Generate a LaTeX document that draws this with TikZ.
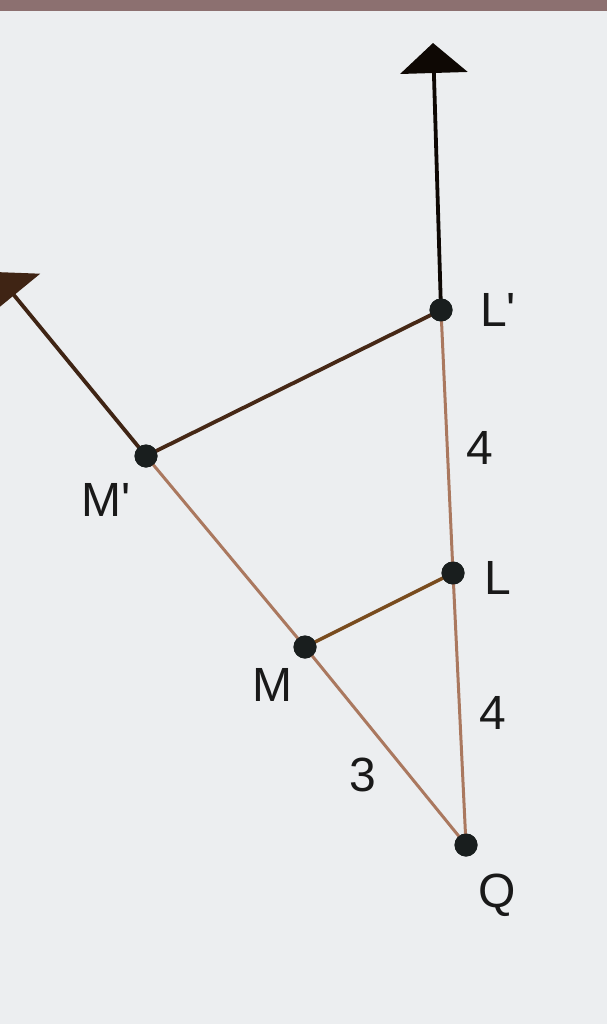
\documentclass[tikz,border=0pt]{standalone}
\usepackage{fontspec}
\setmainfont{Liberation Sans}
\usetikzlibrary{arrows.meta}
\definecolor{bg}{RGB}{236,238,240}
\definecolor{band}{RGB}{140,112,112}
\definecolor{darkln}{RGB}{70,40,22}
\definecolor{midln}{RGB}{120,75,30}
\definecolor{lightln}{RGB}{170,120,95}
\definecolor{dotc}{RGB}{25,30,30}
\definecolor{txt}{RGB}{25,25,25}
\begin{document}
\begin{tikzpicture}[x=1pt,y=-1pt,
  pt/.style={circle,fill=dotc,inner sep=0pt,minimum size=23pt},
  lbl/.style={font=\fontsize{48}{48}\selectfont,text=txt,inner sep=0pt},
  thickln/.style={line width=3.8pt,draw=darkln},
  thinln/.style={line width=3pt,draw=lightln}]
\useasboundingbox (0,0) rectangle (607,1024);
\fill[bg] (0,0) rectangle (607,1024);
\fill[band] (0,0) rectangle (607,11);
\node[pt] (Q) at (466,845) {};
\node[pt] (L) at (453,573) {};
\node[pt] (Lp) at (441,310) {};
\node[pt] (M) at (305,647) {};
\node[pt] (Mp) at (146,456) {};
\coordinate (T) at (433,43);
\coordinate (A) at (-5,272);
\draw[thinln] (Q.center) -- (L.center);
\draw[thinln] (L.center) -- (Lp.center);
\draw[thinln] (Q.center) -- (M.center);
\draw[thinln] (M.center) -- (Mp.center);
\draw[line width=3.4pt,draw=midln] (M.center) -- (L.center);
\draw[thickln] (Mp.center) -- (Lp.center);
\draw[thickln,draw=black!80!darkln,-{Triangle[length=30pt,width=67pt]}] (Lp.center) -- (T);
\draw[thickln,draw=darkln!90!black,-{Triangle[length=30pt,width=67pt]}] (Mp.center) -- (A);
\node[pt] at (Q) {};
\node[pt] at (L) {};
\node[pt] at (Lp) {};
\node[pt] at (M) {};
\node[pt] at (Mp) {};
\node[lbl] (tLp) at (498,310) {L\textquotesingle};
\node[lbl] (t4a) at (480,448) {4};
\node[lbl] (tL) at (498,578) {L};
\node[lbl] (tMp) at (106,500) {M\textquotesingle};
\node[lbl] (tM) at (272,685) {M};
\node[lbl] (t4b) at (493,713) {4};
\node[lbl] (t3) at (363,775) {3};
\node[lbl] (tQ) at (497,895) {Q};
\end{tikzpicture}
\end{document}
